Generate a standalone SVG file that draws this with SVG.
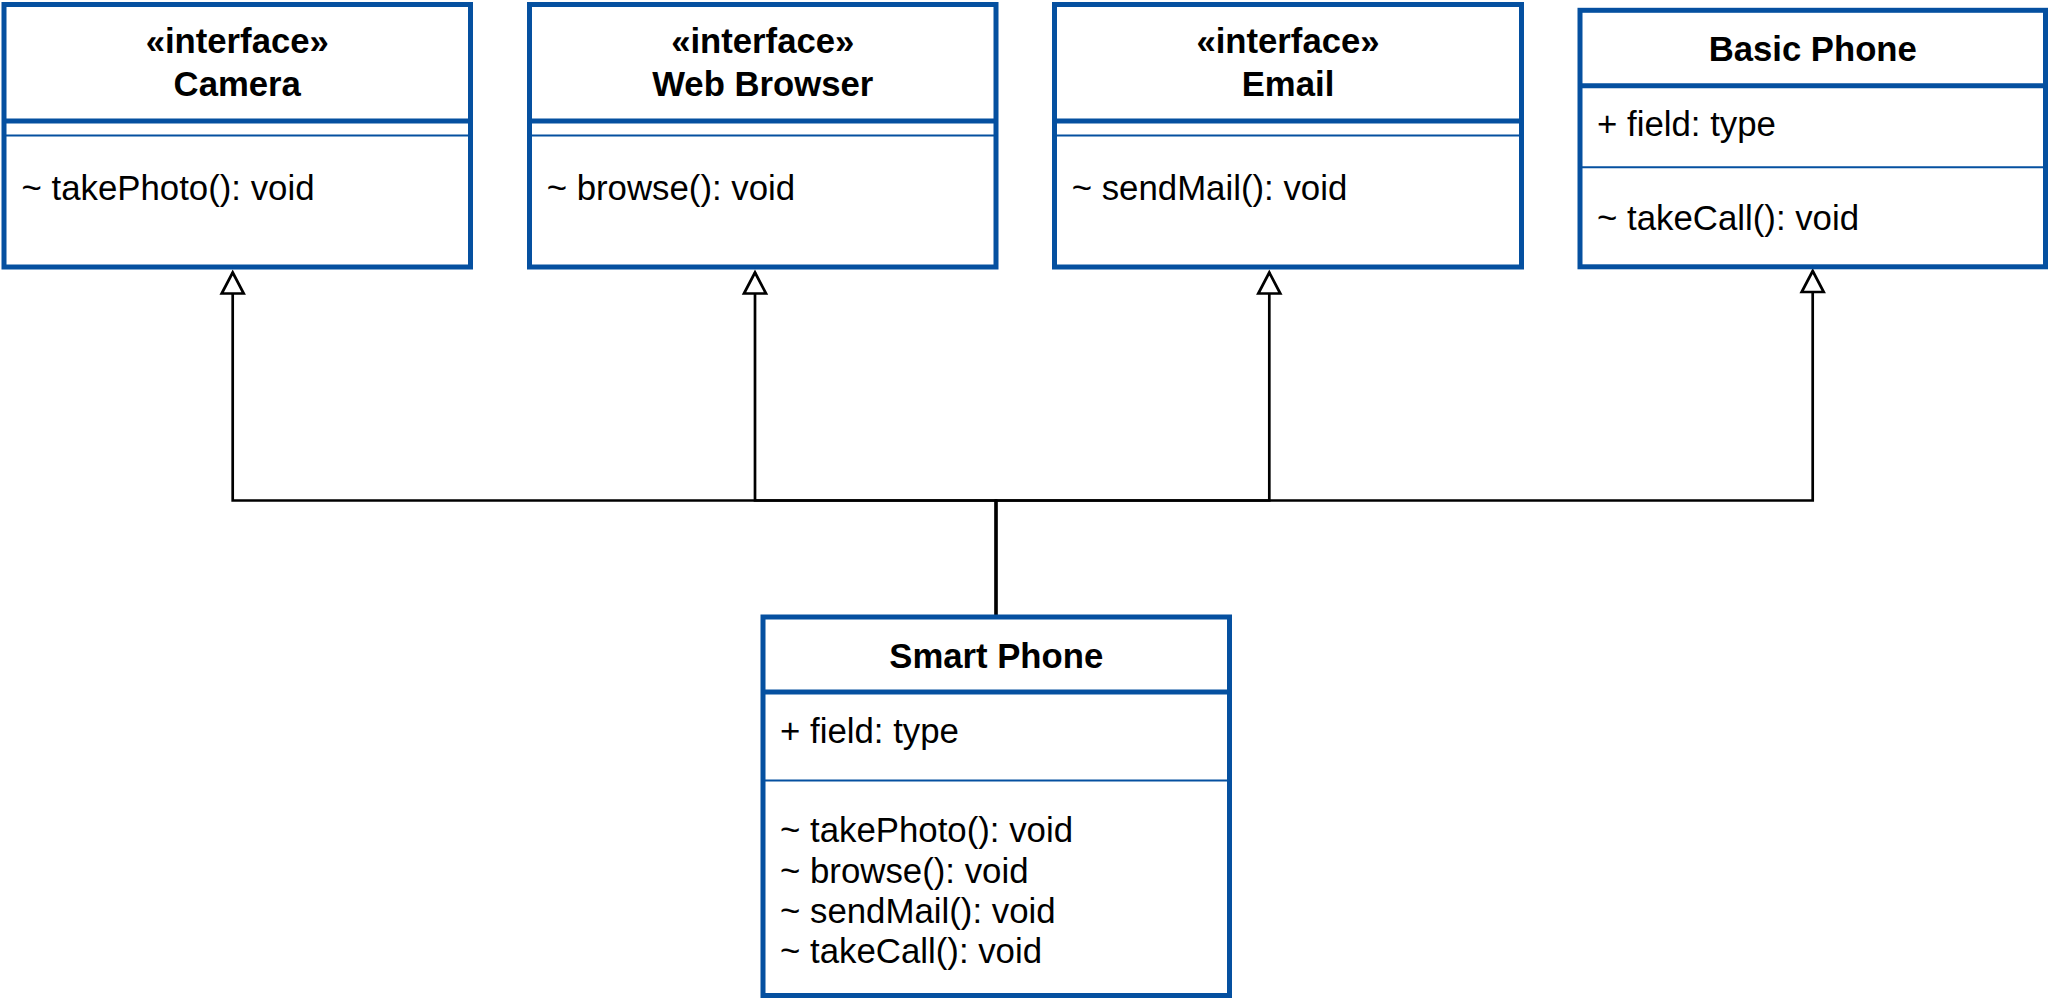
<svg xmlns="http://www.w3.org/2000/svg" width="2048" height="1004" viewBox="0 0 2048 1004">
<defs>
<style>
.box{fill:#ffffff;stroke:#0550a0;stroke-width:5}
.hdr{stroke:#0550a0;stroke-width:5}
.sep{stroke:#0550a0;stroke-width:2}
.title{font-family:"Liberation Sans",Arial,sans-serif;font-size:34.7px;font-weight:bold;fill:#000;text-anchor:middle}
.txt{font-family:"Liberation Sans",Arial,sans-serif;font-size:34.8px;fill:#000}
.edge{fill:none;stroke:#000;stroke-width:2.7;marker-end:url(#tri)}
</style>
<marker id="tri" markerUnits="userSpaceOnUse" viewBox="-2 -2 26 26" markerWidth="26" markerHeight="26" refX="21" refY="11" orient="auto" overflow="visible">
<path d="M0,0 L21,11 L0,22 Z" fill="#ffffff" stroke="#000" stroke-width="2.7" stroke-linejoin="miter"/>
</marker>
</defs>
<rect x="0" y="0" width="2048" height="1004" fill="#ffffff"/>

<g id="connectors">
<path class="edge" d="M996,617 V500.5 H232.7 V272.5"/>
<path class="edge" d="M996,617 V500.5 H755 V272.5"/>
<path class="edge" d="M996,617 V500.5 H1269.3 V272.5"/>
<path class="edge" d="M996,617 V500.5 H1812.7 V271"/>
</g>

<g id="camera">
<rect class="box" x="4" y="4.5" width="466.5" height="262.5"/>
<line class="hdr" x1="4" y1="121" x2="470.5" y2="121"/>
<line class="sep" x1="4" y1="135.5" x2="470.5" y2="135.5"/>
<text class="title" x="237.25" y="53">«interface»</text>
<text class="title" x="237.25" y="96">Camera</text>
<text class="txt" x="21.5" y="200">~ takePhoto(): void</text>
</g>

<g id="web-browser">
<rect class="box" x="529.5" y="4.5" width="466.5" height="262.5"/>
<line class="hdr" x1="529.5" y1="121" x2="996" y2="121"/>
<line class="sep" x1="529.5" y1="135.5" x2="996" y2="135.5"/>
<text class="title" x="762.75" y="53">«interface»</text>
<text class="title" x="762.75" y="96">Web Browser</text>
<text class="txt" x="546.7" y="200">~ browse(): void</text>
</g>

<g id="email">
<rect class="box" x="1054.5" y="4.5" width="467" height="262.5"/>
<line class="hdr" x1="1054.5" y1="121" x2="1521.5" y2="121"/>
<line class="sep" x1="1054.5" y1="135.5" x2="1521.5" y2="135.5"/>
<text class="title" x="1288" y="53">«interface»</text>
<text class="title" x="1288" y="96">Email</text>
<text class="txt" x="1071.7" y="200">~ sendMail(): void</text>
</g>

<g id="basic-phone">
<rect class="box" x="1580" y="10.3" width="465.5" height="256.5"/>
<line class="hdr" x1="1580" y1="85.8" x2="2045.5" y2="85.8"/>
<line class="sep" x1="1580" y1="167.3" x2="2045.5" y2="167.3"/>
<text class="title" x="1812.75" y="61">Basic Phone</text>
<text class="txt" x="1597" y="136">+ field: type</text>
<text class="txt" x="1597" y="230">~ takeCall(): void</text>
</g>

<g id="smart-phone">
<rect class="box" x="763" y="617" width="466.5" height="378.5"/>
<line class="hdr" x1="763" y1="692" x2="1229.5" y2="692"/>
<line class="sep" x1="763" y1="780.5" x2="1229.5" y2="780.5"/>
<text class="title" x="996.25" y="668">Smart Phone</text>
<text class="txt" x="780" y="743">+ field: type</text>
<text class="txt" x="780" y="841.7">~ takePhoto(): void</text>
<text class="txt" x="780" y="882.7">~ browse(): void</text>
<text class="txt" x="780" y="923">~ sendMail(): void</text>
<text class="txt" x="780" y="963">~ takeCall(): void</text>
</g>
</svg>
